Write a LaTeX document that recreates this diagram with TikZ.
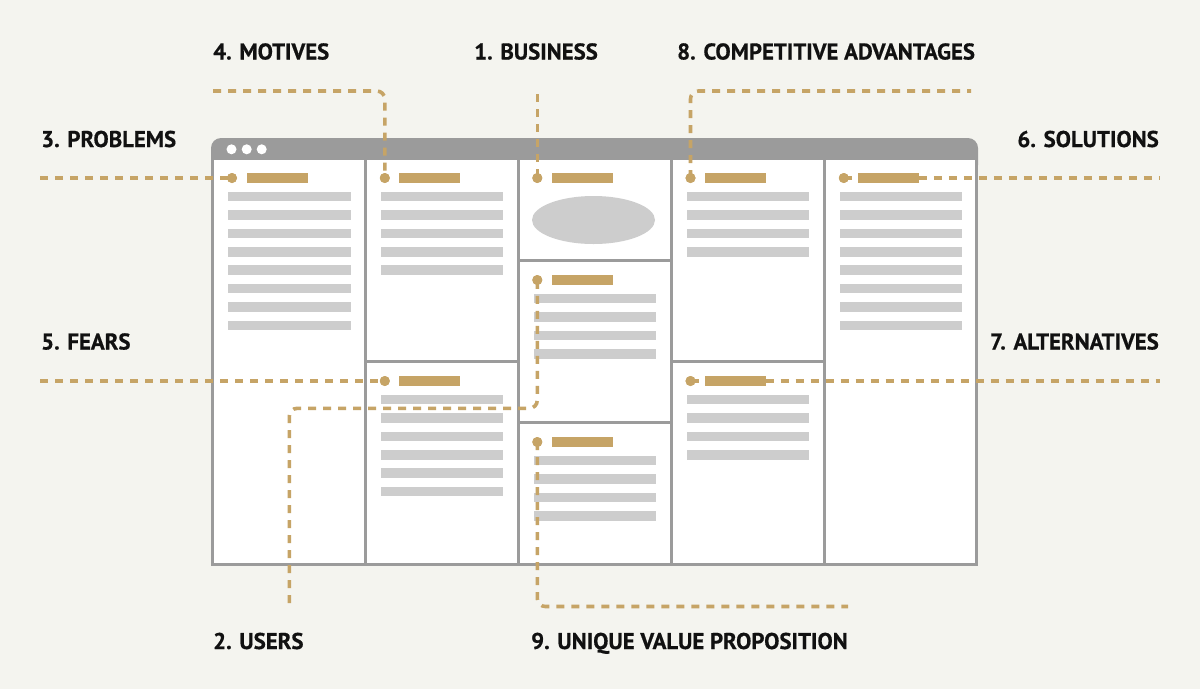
\documentclass[tikz,border=0pt]{standalone}
\usepackage{fontspec}
\setmainfont{PT Sans}[BoldFeatures={FakeBold=0.6}]
\definecolor{bg}{HTML}{F4F4EF}
\definecolor{gold}{HTML}{C6A466}
\definecolor{frame}{HTML}{9B9B9B}
\definecolor{ltgray}{HTML}{CDCDCD}
\definecolor{ink}{HTML}{111111}
\tikzset{
  framestroke/.style={draw=frame, line width=3pt},
  gdot/.style={circle, fill=gold, inner sep=0pt, minimum size=10pt},
  gbar/.style={fill=gold},
  tline/.style={fill=ltgray},
  dashlink/.style={draw=gold, line width=3.6pt, dash pattern=on 8pt off 7pt, rounded corners=8pt},
  lbl/.style={font=\bfseries\fontsize{22.8}{27}\selectfont, text=ink, inner sep=0pt},
}
\begin{document}
\begin{tikzpicture}[x=1pt,y=-1pt]
\useasboundingbox (0,0) rectangle (1200,689);
\fill[bg] (0,0) rectangle (1200,689);
% header
\fill[frame, rounded corners=10pt] (211,175) -- (211,138) -- (978,138) -- (978,175) -- cycle;
\fill[white] (213,160) rectangle (976,563);
\draw[framestroke] (212.5,150) -- (212.5,564.5) -- (976.5,564.5) -- (976.5,150);
\foreach \x in {365,518,671,824} \draw[framestroke] (\x,160) -- (\x,564.5);
\draw[framestroke] (365,361.5) -- (518,361.5);
\draw[framestroke] (518,260) -- (671,260);
\draw[framestroke] (518,422.5) -- (671,422.5);
\draw[framestroke] (671,361.5) -- (824,361.5);
\foreach \x/\n in {231.5/a,246.7/b,261.7/c} \node[circle, fill=white, inner sep=0pt, minimum size=10pt] (hd\n) at (\x,149.3) {};
% text lines
\foreach \c/\y/\k in {212.5/178/8, 365/178/5, 365/381/6, 518/280/4, 518/442/4, 671/178/4, 671/381/4, 824/178/8}{
  \foreach \i in {1,...,\k}{
    \fill[tline] ({\c+15.5},{\y+13.8+18.4*(\i-1)}) rectangle ({\c+138},{\y+23.3+18.4*(\i-1)});
  }
}
\fill[ltgray] (593.5,220) ellipse [x radius=61.5pt, y radius=24pt];
% dots
\node[gdot] (p3) at (232,178) {};
\node[gdot] (p4) at (384.8,178) {};
\node[gdot] (p5) at (384.8,381) {};
\node[gdot] (p1) at (537.3,178) {};
\node[gdot] (p2) at (537.3,280) {};
\node[gdot] (p9) at (537.3,442) {};
\node[gdot] (p8) at (690.5,178) {};
\node[gdot] (p7) at (690.5,381) {};
\node[gdot] (p6) at (843.8,178) {};
% free ends
\coordinate (e3) at (40,178);
\coordinate (e4) at (213,91);
\coordinate (e1) at (537.3,94);
\coordinate (e8) at (971,91);
\coordinate (e6) at (1160,178);
\coordinate (e5) at (40,381);
\coordinate (e7) at (1160,381);
\coordinate (e2) at (289.3,603);
\coordinate (e9) at (848,606.5);
% dashed connectors
\draw[dashlink] (e3) -- (p3.center);
\draw[dashlink] (e4) -| (p4.center);
\draw[dashlink] (e1) -- (p1.center);
\draw[dashlink] (p8.center) |- (e8);
\draw[dashlink] (p6.center) -- (e6);
\draw[dashlink] (e5) -- (p5.center);
\draw[dashlink] (p7.center) -- (e7);
\draw[dashlink] (e2) -- (289.3,408.3) -- (537.3,408.3) -- (p2.center);
\draw[dashlink] (p9.center) |- (e9);
% redraw dots and bars on top
\foreach \n in {p1,p2,p3,p4,p5,p6,p7,p8,p9} \fill[gold] (\n.center) circle (5pt);
\foreach \c/\y in {212.5/178, 365/178, 365/381, 518/178, 518/280, 518/442, 671/178, 671/381, 824/178}{
  \fill[gbar] ({\c+34},{\y-5}) rectangle ({\c+95},{\y+5});
}
% labels
\node[lbl, anchor=base west] (l4) at (213,59.5) {4. MOTIVES};
\node[lbl, anchor=base west] (l1) at (474,59.5) {1. BUSINESS};
\node[lbl, anchor=base west] (l8) at (677,59.5) {8. COMPETITIVE ADVANTAGES};
\node[lbl, anchor=base west] (l3) at (41,147) {3. PROBLEMS};
\node[lbl, anchor=base east] (l6) at (1159,147) {6. SOLUTIONS};
\node[lbl, anchor=base west] (l5) at (41,349.5) {5. FEARS};
\node[lbl, anchor=base east] (l7) at (1159,349.5) {7. ALTERNATIVES};
\node[lbl, anchor=base west] (l2) at (213,649) {2. USERS};
\node[lbl, anchor=base west] (l9) at (531,649) {9. UNIQUE VALUE PROPOSITION};
\end{tikzpicture}
\end{document}
